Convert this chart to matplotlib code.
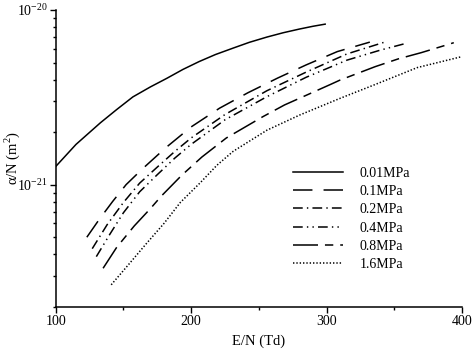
import matplotlib
matplotlib.use("Agg")
import matplotlib.pyplot as plt
from matplotlib.ticker import LogLocator, LogFormatterMathtext, NullFormatter, MultipleLocator

plt.rcParams['font.family'] = ['Liberation Serif', 'DejaVu Serif']
plt.rcParams['mathtext.fontset'] = 'custom'
plt.rcParams['mathtext.rm'] = 'Liberation Serif'
plt.rcParams['lines.scale_dashes'] = False

# E/N (Td) and alpha/N (m^2)
en_001 = [100, 115, 133, 145, 157, 170, 182, 194, 206, 218, 231, 243, 256, 268, 280, 290, 299]
a_001 = [1.27e-21, 1.70e-21, 2.26e-21, 2.69e-21, 3.18e-21, 3.63e-21, 4.06e-21, 4.57e-21,
         5.07e-21, 5.56e-21, 6.05e-21, 6.53e-21, 7.0e-21, 7.41e-21, 7.78e-21, 8.07e-21, 8.3e-21]

en_01 = [123, 132, 142, 152, 164, 181, 200, 221, 242, 264, 285, 308, 332]
a_01 = [5.0e-22, 6.3e-22, 8.0e-22, 1.0e-21, 1.23e-21, 1.62e-21, 2.14e-21, 2.74e-21, 3.36e-21,
        4.08e-21, 4.85e-21, 5.78e-21, 6.55e-21]

en_02 = [127, 138, 150, 162, 175, 188, 200, 225, 256, 285, 315, 343]
a_02 = [4.3e-22, 5.9e-22, 7.9e-22, 1.02e-21, 1.26e-21, 1.55e-21, 1.85e-21, 2.52e-21,
        3.45e-21, 4.41e-21, 5.6e-21, 6.55e-21]

en_04 = [130, 140, 150, 162, 175, 188, 200, 225, 256, 285, 315, 340, 359]
a_04 = [3.87e-22, 5.2e-22, 6.9e-22, 9.1e-22, 1.14e-21, 1.42e-21, 1.70e-21, 2.35e-21,
        3.19e-21, 4.12e-21, 5.16e-21, 5.9e-21, 6.45e-21]

en_08 = [135, 145, 158, 170, 178, 193, 208, 226, 253, 269, 287, 303, 310, 336, 353, 370, 389, 394]
a_08 = [3.32e-22, 4.37e-22, 5.8e-22, 7.3e-22, 8.6e-22, 1.13e-21, 1.44e-21, 1.85e-21, 2.45e-21,
        2.86e-21, 3.3e-21, 3.75e-21, 3.97e-21, 4.74e-21, 5.25e-21, 5.7e-21, 6.32e-21, 6.5e-21]

en_16 = [141, 154, 167, 180, 192, 207, 219, 231, 256, 280, 310, 335, 367, 400]
a_16 = [2.67e-22, 3.5e-22, 4.6e-22, 6.0e-22, 7.9e-22, 1.03e-21, 1.29e-21, 1.55e-21, 2.05e-21,
        2.5e-21, 3.12e-21, 3.72e-21, 4.68e-21, 5.41e-21]

labels = ["0.01MPa", "0.1MPa", "0.2MPa", "0.4MPa", "0.8MPa", "1.6MPa"]

fig = plt.figure(figsize=(4.74, 3.5), dpi=100)
ax = fig.add_axes([0.1175, 0.1237, 0.857, 0.8477])

styles = [
    '-',
    (0, (14, 8)),
    (0, (7, 3, 1, 3)),
    (0, (7, 3, 1, 3, 1, 3)),
    (0, (18, 5, 6, 5)),
    (0, (1, 1.4)),
]
series = [(en_001, a_001), (en_01, a_01), (en_02, a_02),
          (en_04, a_04), (en_08, a_08), (en_16, a_16)]

for (x, y), ls, lab in zip(series, styles, labels):
    ax.plot(x, y, color='black', linestyle=ls, linewidth=1.1, label=lab)

ax.set_yscale('log')
ax.set_xlim(100, 400)
ax.set_ylim(2e-22, 1e-20)
ax.xaxis.set_major_locator(MultipleLocator(100))
ax.xaxis.set_minor_locator(MultipleLocator(50))
ax.yaxis.set_major_locator(LogLocator(base=10))
ax.yaxis.set_major_formatter(LogFormatterMathtext())
ax.yaxis.set_minor_locator(LogLocator(base=10, subs=range(2, 10)))
ax.yaxis.set_minor_formatter(NullFormatter())

for side in ['top', 'right']:
    ax.spines[side].set_visible(False)
for side in ['left', 'bottom']:
    ax.spines[side].set_linewidth(1.1)

ax.tick_params(which='major', direction='out', length=4, width=1.0, labelsize=10, pad=2)
ax.tick_params(which='minor', direction='out', length=2.5, width=1.0)

ax.set_xlabel('E/N (Td)', fontsize=10.5, va='center')
ax.xaxis.set_label_coords(0.5, -0.115)
ax.set_ylabel(r'α/N (m$^2$)', fontsize=10.5, va='center')
ax.yaxis.set_label_coords(-0.108, 0.5)

ax.legend(loc='center left', bbox_to_anchor=(0.585, 0.296), frameon=False,
          fontsize=10, handlelength=3.6, handletextpad=1.2, labelspacing=0.38,
          borderpad=0, borderaxespad=0)

fig.savefig('out.png', dpi=100)
